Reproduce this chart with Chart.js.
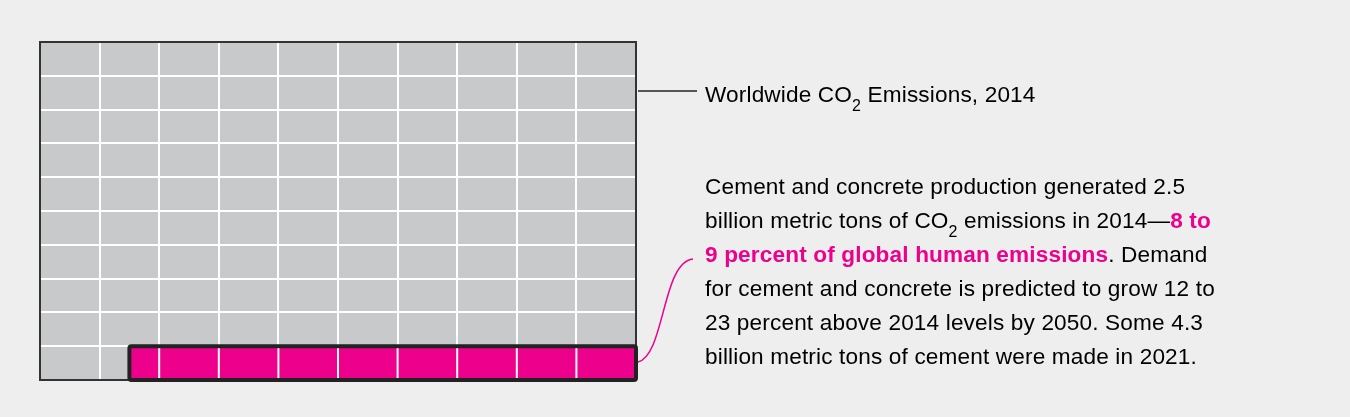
<!DOCTYPE html>
<html><head><meta charset="utf-8">
<script src="https://cdn.jsdelivr.net/npm/chart.js@4"></script>
<style>
html,body{margin:0;padding:0;background:#eeeeee;}
#wrap{position:relative;width:1350px;height:417px;}
canvas{position:absolute;left:0;top:0;}
.t{position:absolute;font-family:"Liberation Sans",Arial,sans-serif;font-size:22.6px;color:#000;white-space:nowrap;line-height:34px;letter-spacing:0.15px;}
sub{font-size:16px;vertical-align:-9px;line-height:0;}
.pk{color:#ec008c;font-weight:bold;}
</style></head><body>
<div id="wrap"><canvas id="c" width="1350" height="417"></canvas>
<div class="t" style="left:705px;top:78px;">Worldwide CO<sub>2</sub> Emissions, 2014</div>
<div class="t" style="left:705px;top:170px;">Cement and concrete production generated 2.5<br>billion metric tons of CO<sub>2</sub> emissions in 2014—<span class="pk">8 to</span><br><span class="pk">9 percent of global human emissions</span>. Demand<br>for cement and concrete is predicted to grow 12 to<br>23 percent above 2014 levels by 2050. Some 4.3<br>billion metric tons of cement were made in 2021.</div>
</div>
<script>
const columns = 10;
const rows = 10;
const totalCells = 100;
const cementCells = 8.5; // share of 100 cells
const cementStart = columns - cementCells; // 1.5

const waffle = {
  id:'waffle',
  beforeDraw(ch){
    const {ctx,chartArea:a}=ch;
    ctx.save();ctx.fillStyle='#c8c9cb';ctx.fillRect(a.left,a.top,a.right-a.left,a.bottom-a.top);ctx.restore();
  },
  afterDraw(ch){
    const {ctx,chartArea:a,scales:{x,y}}=ch;
    ctx.save();
    const x0=x.getPixelForValue(cementStart),x1=x.getPixelForValue(columns);
    const y0=y.getPixelForValue(1),y1=y.getPixelForValue(0);
    ctx.fillStyle='#ec008c';ctx.fillRect(x0,y0,x1-x0,y1-y0);
    ctx.strokeStyle='#ffffff';ctx.lineWidth=2;
    for(let i=Math.ceil(cementStart);i<columns;i++){const px=x.getPixelForValue(i);ctx.beginPath();ctx.moveTo(px,y0);ctx.lineTo(px,y1);ctx.stroke();}
    ctx.strokeStyle='#333';ctx.lineWidth=2;ctx.strokeRect(a.left,a.top,a.right-a.left,a.bottom-a.top);
    ctx.strokeStyle='#222';ctx.lineWidth=4;ctx.beginPath();ctx.roundRect(x0,y0,x1-x0,y1-y0,2);ctx.stroke();
    ctx.strokeStyle='#222';ctx.lineWidth=1.5;ctx.beginPath();ctx.moveTo(a.right+2,91);ctx.lineTo(697,91);ctx.stroke();
    ctx.strokeStyle='#ec008c';ctx.lineWidth=1.5;ctx.beginPath();ctx.moveTo(x1+2,362);
    ctx.bezierCurveTo(665,355,662,262,693,259);ctx.stroke();
    ctx.restore();
  }
};
new Chart(document.getElementById('c'),{
  type:'scatter',
  data:{datasets:[{data:[],pointRadius:0}]},
  options:{responsive:false,animation:false,
    layout:{padding:{left:40,top:42,right:714,bottom:37}},
    plugins:{legend:{display:false},tooltip:{enabled:false}},
    scales:{
      x:{min:0,max:columns,ticks:{display:false,stepSize:1},border:{display:false},grid:{color:'#ffffff',lineWidth:2,drawTicks:false}},
      y:{min:0,max:rows,ticks:{display:false,stepSize:1},border:{display:false},grid:{color:'#ffffff',lineWidth:2,drawTicks:false}}
    }},
  plugins:[waffle]
});
</script></body></html>
